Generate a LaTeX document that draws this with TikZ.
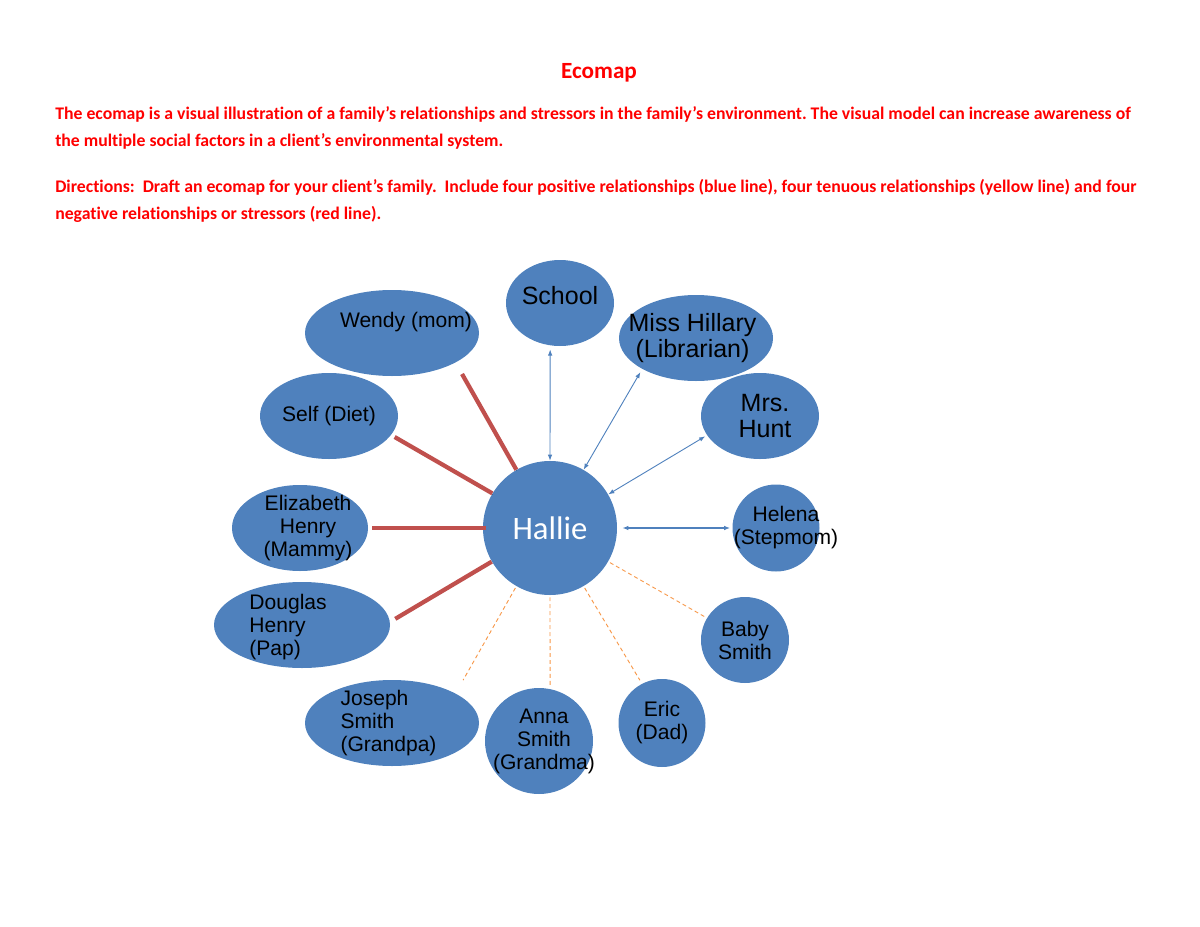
\documentclass[tikz,border=0pt]{standalone}
\usepackage{fontspec}
\setmainfont{Carlito}[Ligatures=NoCommon]
\newfontfamily\arial{Liberation Sans}
\usetikzlibrary{arrows.meta,shapes.geometric}
\frenchspacing
\definecolor{blau}{HTML}{4F81BD}
\definecolor{rot}{HTML}{C0504D}
\definecolor{orng}{HTML}{F79646}
\definecolor{textrot}{HTML}{FF0000}
\tikzset{
  bubble/.style 2 args={ellipse,fill=blau,inner sep=0pt,minimum width=#1*0.66pt,minimum height=#2*0.66pt},
  txts/.style={font=\arial\fontsize{13.9}{15.2}\selectfont,align=center},
  txtb/.style={font=\arial\fontsize{16.5}{16.8}\selectfont,align=center},
  titel/.style={textrot,font=\bfseries\fontsize{15.3}{18}\selectfont,inner sep=0pt},
  para/.style={textrot,font=\bfseries\fontsize{11.7}{17.5}\selectfont,align=left,inner sep=0pt},
  posrel/.style={{Latex[length=4pt,width=3pt]}-{Latex[length=4pt,width=3pt]},blau,line width=0.6pt},
  negrel/.style={rot,line width=2.8pt,preaction={draw=black,opacity=0.25,transform canvas={xshift=0.4pt,yshift=-0.8pt}}},
  tenrel/.style={orng,dash pattern=on 2.6pt off 2pt,line width=0.6pt},
}
\begin{document}
\begin{tikzpicture}[x=0.66pt,y=-0.66pt]
  \useasboundingbox (0,0) rectangle (1200,927);
  \node[titel,anchor=base] (titel) at (599,78) {Ecomap};
  \node[para,anchor=base west] (intro) at (55,146) {The ecomap is a visual illustration of a family’s relationships and stressors in the family’s environment. The visual model can increase awareness of\\the multiple social factors in a client’s environmental system.};
  \node[para,anchor=base west] (hinweis) at (55,219) {Directions:\ \ Draft an ecomap for your client’s family.\ \ Include four positive relationships (blue line), four tenuous relationships (yellow line) and four\\negative relationships or stressors (red line).};

  \node[bubble={134}{134},text=white,font=\fontsize{21.6}{24}\selectfont] (hallie) at (550,528) {Hallie};
  \node[bubble={108}{86},label={[txtb,yshift=4.6pt]center:School}] (school) at (560,303) {};
  \node[bubble={174}{86},label={[txts,xshift=9.2pt,yshift=7.3pt]center:Wendy (mom)}] (wendy) at (392,333) {};
  \node[bubble={138}{86},label={[txts]center:Self (Diet)}] (self) at (329,416) {};
  \node[bubble={136}{86},label={[txts,xshift=5.3pt]center:{Elizabeth\\Henry\\(Mammy)}}] (eliz) at (300,528) {};
  \node[bubble={176}{86},label={[txts,align=left,xshift=-9.2pt,yshift=-1.3pt]center:{Douglas\\Henry\\(Pap)}}] (douglas) at (302,625) {};
  \node[bubble={174}{86},label={[txts,align=left,xshift=-2.3pt]center:{Joseph\\Smith\\(Grandpa)}}] (joseph) at (392,723) {};
  \node[bubble={108}{106},label={[txts,xshift=3.3pt]center:{Anna\\Smith\\(Grandma)}}] (anna) at (539,741) {};
  \node[bubble={87}{88},label={[txts]center:{Eric\\(Dad)}}] (eric) at (662,723) {};
  \node[bubble={88}{86},label={[txts]center:{Baby\\Smith}}] (baby) at (745,640) {};
  \node[bubble={87}{87},label={[txts,xshift=6.6pt]center:{Helena\\(Stepmom)}}] (helena) at (776,528) {};
  \node[bubble={118}{86},label={[txtb,xshift=3.3pt]center:{Mrs.\\Hunt}}] (hunt) at (760,416) {};
  \node[bubble={154}{86},label={[txtb,xshift=-2.3pt]center:{Miss Hillary\\(Librarian)}}] (hillary) at (696,338) {};

  \draw[negrel,shorten >=8.6pt] (hallie.120) -- (wendy.-25);
  \draw[negrel,shorten >=2.6pt] (hallie.149) -- (self.-17);
  \draw[negrel,shorten >=2.6pt,shorten <=-2pt] (hallie.180) -- (eliz.0);
  \draw[negrel,shorten >=4pt] (hallie.210) -- (douglas.2);

  \draw[posrel,shorten >=2.6pt] (hallie.90) -- (school.-103);
  \draw[posrel,shorten >=2.3pt] (hallie.60) -- (hillary.210);
  \draw[posrel,shorten >=1.3pt] (hallie.30) -- (hunt.200);
  \draw[posrel,line width=1pt,shorten <=3.3pt,shorten >=1.3pt] (hallie.0) -- (helena.180);

  \draw[tenrel,shorten <=1.3pt,shorten >=10pt] (hallie.240) -- (joseph.25);
  \draw[tenrel,shorten <=1.3pt,shorten >=2pt] (hallie.270) -- (anna.78);
  \draw[tenrel,shorten <=1.3pt,shorten >=2.6pt] (hallie.300) -- (eric.117);
  \draw[tenrel,shorten <=1.3pt,shorten >=1.6pt] (hallie.330) -- (baby.150);
\end{tikzpicture}
\end{document}
